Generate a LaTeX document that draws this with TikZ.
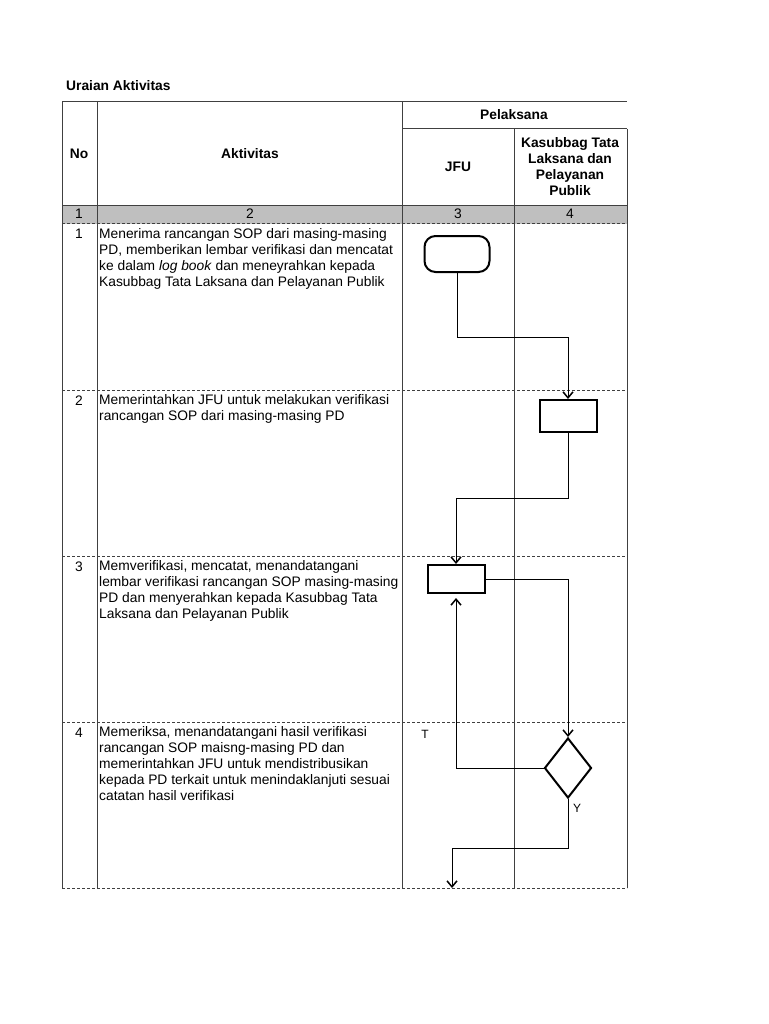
\documentclass[tikz,border=0pt]{standalone}
\usepackage{fontspec}
\setmainfont{Liberation Sans}
\usetikzlibrary{arrows.meta,shapes.geometric}

\tikzset{
  grid/.style={line width=1pt,black!75},
  rowline/.style={line width=1pt,black!75,dash pattern=on 3pt off 2pt},
  head/.style={font=\fontsize{13.8}{16}\selectfont\bfseries,align=center,inner sep=0pt},
  cell/.style={font=\fontsize{13.8}{16}\selectfont,inner sep=0pt},
  nomor/.style={cell,anchor=base},
  uraian/.style={cell,anchor=north west,align=left},
  term/.style={draw,line width=2pt,rounded corners=11pt,minimum width=65pt,minimum height=36pt,inner sep=0pt},
  proc/.style={draw,line width=2pt,minimum width=57pt,inner sep=0pt},
  decide/.style={draw,diamond,line width=2pt,minimum width=47pt,minimum height=60pt,inner sep=0pt},
  flow/.style={line width=1pt,-{Straight Barb[length=6pt,width=10pt,line width=1.5pt]}},
}

\begin{document}
\begin{tikzpicture}[x=1pt,y=-1pt]
        \useasboundingbox[fill=white] (0,0) rectangle (768,1024);
        %judul
            \node[head,anchor=west] (judul) at (66,86) {Uraian Aktivitas};
        %tabel
            \fill[black!25] (62,206) rectangle (627,224);
            \draw[grid] (62,102) -- (627,102) (402,129) -- (627,129) (62,206) -- (627,206);
            \draw[grid] (62,102) -- (62,888) (97,102) -- (97,888) (402,102) -- (402,888);
            \draw[grid] (514,129) -- (514,888) (627,129) -- (627,888);
            \foreach \y in {224,390,556,722,888}
                \draw[rowline] (62,\y) -- (627,\y);
        %kepala tabel
            \node[head] (no) at (79,154) {No};
            \node[head] (akt) at (250,154) {Aktivitas};
            \node[head] (pel) at (514,115) {Pelaksana};
            \node[head] (jfu) at (458,167) {JFU};
            \node[head] (kas) at (570,167) {Kasubbag Tata\\Laksana dan\\Pelayanan\\Publik};
            \node[cell] (k1) at (79,214) {1};
            \node[cell] (k2) at (250,214) {2};
            \node[cell] (k3) at (458,214) {3};
            \node[cell] (k4) at (570,214) {4};
        %uraian
            \node[nomor] (n1) at (79,239) {1};
            \node[uraian] (u1) at (99,228) {Menerima rancangan SOP dari masing-masing\\PD, memberikan lembar verifikasi dan mencatat\\ke dalam \textit{log book} dan meneyrahkan kepada\\Kasubbag Tata Laksana dan Pelayanan Publik};
            \node[nomor] (n2) at (79,405) {2};
            \node[uraian] (u2) at (99,394) {Memerintahkan JFU untuk melakukan verifikasi\\rancangan SOP dari masing-masing PD};
            \node[nomor] (n3) at (79,571) {3};
            \node[uraian] (u3) at (99,560) {Memverifikasi, mencatat, menandatangani\\lembar verifikasi rancangan SOP masing-masing\\PD dan menyerahkan kepada Kasubbag Tata\\Laksana dan Pelayanan Publik};
            \node[nomor] (n4) at (79,737) {4};
            \node[uraian] (u4) at (99,726) {Memeriksa, menandatangani hasil verifikasi\\rancangan SOP maisng-masing PD dan\\memerintahkan JFU untuk mendistribusikan\\kepada PD terkait untuk menindaklanjuti sesuai\\catatan hasil verifikasi};
        %simbol
            \node[term] (mulai) at (457,254) {};
            \node[proc,minimum height=32pt] (p2) at (568,416) {};
            \node[proc,minimum height=28pt] (p3) at (456,579) {};
            \node[decide] (cek) at (568,768) {};
            \coordinate (akhir) at (452,888);
            \node[cell,font=\fontsize{12}{14}\selectfont] (t) at (425,734) {T};
            \node[cell,font=\fontsize{12}{14}\selectfont] (y) at (577,808) {Y};
        %alur
            \draw[flow] (mulai.south) -- ++(0,64) -| (p2.north);
            \draw[flow] (p2.south) -- ++(0,65) -| (p3.north);
            \draw[flow] (p3.east) -| (cek.north);
            \draw[flow,shorten >=4pt] (cek.west) -| (p3.south);
            \draw[flow] (cek.south) -- ++(0,49) -| (akhir);
\end{tikzpicture}
\end{document}
